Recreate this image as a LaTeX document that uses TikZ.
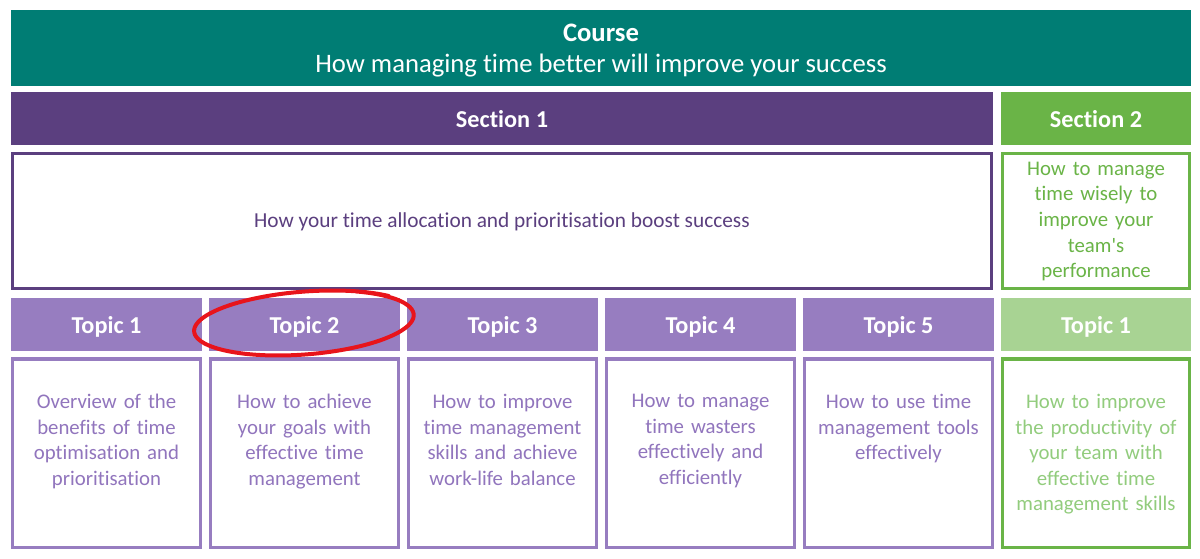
\documentclass[tikz,border=0pt]{standalone}
\usepackage{fontspec}
\setmainfont{Carlito}[Ligatures={TeXOff,NoCommon}]
\definecolor{teal1}{HTML}{007D74}
\definecolor{dpurple}{HTML}{5B3F7F}
\definecolor{lpurple}{HTML}{977DC0}
\definecolor{tpurple}{HTML}{9175BD}
\definecolor{green1}{HTML}{6AB447}
\definecolor{lgreen}{HTML}{A8D393}
\definecolor{tgreen}{HTML}{92CC7D}
\definecolor{ringred}{HTML}{E8141B}
\tikzset{
  bar/.style={fill=#1, draw=none},
  frame/.style={draw=#1, line width=2.4pt, fill=white},
  bartext/.style={text=white, font=\fontsize{18.2}{21}\selectfont\bfseries, align=center},
  desctext/.style={text=#1, font=\fontsize{15.6}{19.2}\selectfont, align=center, text width=180*0.75pt, inner sep=0pt},
}
\begin{document}
\begin{tikzpicture}[x=0.75pt, y=-0.75pt]
\useasboundingbox (0,0) rectangle (1200,559);
% course
\fill[teal1] (11,10) rectangle (1191,86);
\node[text=white, font=\fontsize{20}{23.3}\selectfont, align=center] (course) at (601,51)
  {\textbf{Course}\\How managing time better will improve your success};
% sections
\fill[dpurple] (11,92) rectangle (993,145);
\node[bartext] (sec1) at (502,119) {Section 1};
\fill[green1] (1001,92) rectangle (1191,145);
\node[bartext] (sec2) at (1096,119) {Section 2};
% section descriptions
\draw[frame=dpurple] (12.5,153.5) rectangle (991.5,288.5);
\node[text=dpurple, font=\fontsize{16}{19}\selectfont] (sec1d) at (502,222) {How your time allocation and prioritisation boost success};
\draw[frame=green1] (1002.5,153.5) rectangle (1189.5,288.5);
\node[desctext=green1] (sec2d) at (1096,221.5) {How to manage\\time wisely to\\improve your\\team's\\performance};
% topics
\foreach \i/\lab in {0/Topic 1,1/Topic 2,2/Topic 3,3/Topic 4,4/Topic 5}{
  \fill[lpurple] ({11+198*\i},298) rectangle ({202+198*\i},351);
  \node[bartext] (t\i) at ({106.5+198*\i},327) {\lab};
  \draw[frame=lpurple] ({12.5+198*\i},359) rectangle ({200.5+198*\i},547.5);
}
\fill[lgreen] (1001,298) rectangle (1191,351);
\node[bartext] (t5) at (1096,327) {Topic 1};
\draw[frame=green1] (1002.5,359) rectangle (1189.5,547.5);
% descriptions
\node[desctext=tpurple, anchor=north] (d0) at (106.5,394) {Overview of the\\benefits of time\\optimisation and\\prioritisation};
\node[desctext=tpurple, anchor=north] (d1) at (304.5,394) {How to achieve\\your goals with\\effective time\\management};
\node[desctext=tpurple, anchor=north] (d2) at (502.5,394) {How to improve\\time management\\skills and achieve\\work-life balance};
\node[desctext=tpurple, anchor=north] (d3) at (700.5,394) {How to manage\\time wasters\\effectively and\\efficiently};
\node[desctext=tpurple, anchor=north] (d4) at (898.5,394) {How to use time\\management tools\\effectively};
\node[desctext=tgreen, anchor=north] (d5) at (1096,394) {How to improve\\the productivity of\\your team with\\effective time\\management skills};
% red ring
\draw[ringred, line width=3pt, line cap=round, smooth, samples=90, domain=-62:318]
  plot ({305+(108+0.012*(\x+62))*cos(\x)}, {323+31.5*sin(\x)-8*cos(\x)});
\end{tikzpicture}
\end{document}
